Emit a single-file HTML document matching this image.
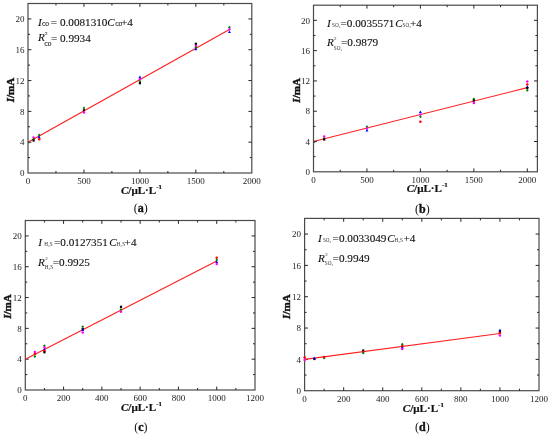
<!DOCTYPE html>
<html><head><meta charset="utf-8"><title>Calibration curves</title>
<style>
html,body{margin:0;padding:0;background:#fff;}
body{width:550px;height:436px;overflow:hidden;}
svg{display:block;}
text{font-family:'Liberation Serif', 'Times New Roman', serif;fill:#1a1a1a;}
.tl{font-size:9.0px;text-anchor:middle;fill:#222;}
.at{font-size:11.1px;font-weight:bold;fill:#111;stroke:#111;stroke-width:0.2px;}
.pl{font-size:12px;fill:#111;}
.eq{font-size:11px;fill:#111;stroke:#111;stroke-width:0.12px;}
</style></head>
<body>
<svg width="550" height="436" viewBox="0 0 550 436">
<rect width="550" height="436" fill="#fff"/>
<g>
<rect x="28.0" y="3.5" width="223.80" height="169.50" fill="none" stroke="#4a4a4a" stroke-width="1.2"/>
<text x="28.00" y="183.80" class="tl">0</text>
<text x="83.95" y="183.80" class="tl">500</text>
<text x="139.90" y="183.80" class="tl">1000</text>
<text x="195.85" y="183.80" class="tl">1500</text>
<text x="251.80" y="183.80" class="tl">2000</text>
<text x="24.40" y="176.20" class="tl" style="text-anchor:end">0</text>
<text x="24.40" y="145.38" class="tl" style="text-anchor:end">4</text>
<text x="24.40" y="114.56" class="tl" style="text-anchor:end">8</text>
<text x="24.40" y="83.75" class="tl" style="text-anchor:end">12</text>
<text x="24.40" y="52.93" class="tl" style="text-anchor:end">16</text>
<text x="24.40" y="22.11" class="tl" style="text-anchor:end">20</text>
<path d="M55.98 173.0v-2.0M55.98 3.5v2.0M83.95 173.0v-3.4M83.95 3.5v3.4M111.92 173.0v-2.0M111.92 3.5v2.0M139.90 173.0v-3.4M139.90 3.5v3.4M167.88 173.0v-2.0M167.88 3.5v2.0M195.85 173.0v-3.4M195.85 3.5v3.4M223.82 173.0v-2.0M223.82 3.5v2.0M28.0 157.59h2.0M251.8 157.59h-2.0M28.0 142.18h3.4M251.8 142.18h-3.4M28.0 126.77h2.0M251.8 126.77h-2.0M28.0 111.36h3.4M251.8 111.36h-3.4M28.0 95.95h2.0M251.8 95.95h-2.0M28.0 80.55h3.4M251.8 80.55h-3.4M28.0 65.14h2.0M251.8 65.14h-2.0M28.0 49.73h3.4M251.8 49.73h-3.4M28.0 34.32h2.0M251.8 34.32h-2.0M28.0 18.91h3.4M251.8 18.91h-3.4" stroke="#262626" stroke-width="1" fill="none"/>
<rect x="313.5" y="5.2" width="223.90" height="166.60" fill="none" stroke="#4a4a4a" stroke-width="1.2"/>
<text x="313.50" y="182.60" class="tl">0</text>
<text x="366.95" y="182.60" class="tl">500</text>
<text x="420.40" y="182.60" class="tl">1000</text>
<text x="473.85" y="182.60" class="tl">1500</text>
<text x="527.30" y="182.60" class="tl">2000</text>
<text x="309.90" y="175.00" class="tl" style="text-anchor:end">0</text>
<text x="309.90" y="144.71" class="tl" style="text-anchor:end">4</text>
<text x="309.90" y="114.42" class="tl" style="text-anchor:end">8</text>
<text x="309.90" y="84.13" class="tl" style="text-anchor:end">12</text>
<text x="309.90" y="53.84" class="tl" style="text-anchor:end">16</text>
<text x="309.90" y="23.55" class="tl" style="text-anchor:end">20</text>
<path d="M340.23 171.8v-2.0M340.23 5.2v2.0M366.95 171.8v-3.4M366.95 5.2v3.4M393.67 171.8v-2.0M393.67 5.2v2.0M420.40 171.8v-3.4M420.40 5.2v3.4M447.12 171.8v-2.0M447.12 5.2v2.0M473.85 171.8v-3.4M473.85 5.2v3.4M500.57 171.8v-2.0M500.57 5.2v2.0M527.30 171.8v-3.4M527.30 5.2v3.4M313.5 156.65h2.0M537.4 156.65h-2.0M313.5 141.51h3.4M537.4 141.51h-3.4M313.5 126.36h2.0M537.4 126.36h-2.0M313.5 111.22h3.4M537.4 111.22h-3.4M313.5 96.07h2.0M537.4 96.07h-2.0M313.5 80.93h3.4M537.4 80.93h-3.4M313.5 65.78h2.0M537.4 65.78h-2.0M313.5 50.64h3.4M537.4 50.64h-3.4M313.5 35.49h2.0M537.4 35.49h-2.0M313.5 20.35h3.4M537.4 20.35h-3.4" stroke="#262626" stroke-width="1" fill="none"/>
<rect x="25.3" y="220.5" width="229.70" height="169.50" fill="none" stroke="#4a4a4a" stroke-width="1.2"/>
<text x="25.30" y="400.80" class="tl">0</text>
<text x="63.58" y="400.80" class="tl">200</text>
<text x="101.87" y="400.80" class="tl">400</text>
<text x="140.15" y="400.80" class="tl">600</text>
<text x="178.43" y="400.80" class="tl">800</text>
<text x="216.72" y="400.80" class="tl">1000</text>
<text x="255.00" y="400.80" class="tl">1200</text>
<text x="21.70" y="393.20" class="tl" style="text-anchor:end">0</text>
<text x="21.70" y="362.38" class="tl" style="text-anchor:end">4</text>
<text x="21.70" y="331.56" class="tl" style="text-anchor:end">8</text>
<text x="21.70" y="300.75" class="tl" style="text-anchor:end">12</text>
<text x="21.70" y="269.93" class="tl" style="text-anchor:end">16</text>
<text x="21.70" y="239.11" class="tl" style="text-anchor:end">20</text>
<path d="M44.44 390.0v-2.0M44.44 220.5v2.0M63.58 390.0v-3.4M63.58 220.5v3.4M82.72 390.0v-2.0M82.72 220.5v2.0M101.87 390.0v-3.4M101.87 220.5v3.4M121.01 390.0v-2.0M121.01 220.5v2.0M140.15 390.0v-3.4M140.15 220.5v3.4M159.29 390.0v-2.0M159.29 220.5v2.0M178.43 390.0v-3.4M178.43 220.5v3.4M197.58 390.0v-2.0M197.58 220.5v2.0M216.72 390.0v-3.4M216.72 220.5v3.4M235.86 390.0v-2.0M235.86 220.5v2.0M25.3 374.59h2.0M255.0 374.59h-2.0M25.3 359.18h3.4M255.0 359.18h-3.4M25.3 343.77h2.0M255.0 343.77h-2.0M25.3 328.36h3.4M255.0 328.36h-3.4M25.3 312.95h2.0M255.0 312.95h-2.0M25.3 297.55h3.4M255.0 297.55h-3.4M25.3 282.14h2.0M255.0 282.14h-2.0M25.3 266.73h3.4M255.0 266.73h-3.4M25.3 251.32h2.0M255.0 251.32h-2.0M25.3 235.91h3.4M255.0 235.91h-3.4" stroke="#262626" stroke-width="1" fill="none"/>
<rect x="304.6" y="218.4" width="234.40" height="172.30" fill="none" stroke="#4a4a4a" stroke-width="1.2"/>
<text x="304.60" y="401.50" class="tl">0</text>
<text x="343.67" y="401.50" class="tl">200</text>
<text x="382.73" y="401.50" class="tl">400</text>
<text x="421.80" y="401.50" class="tl">600</text>
<text x="460.87" y="401.50" class="tl">800</text>
<text x="499.93" y="401.50" class="tl">1000</text>
<text x="539.00" y="401.50" class="tl">1200</text>
<text x="301.00" y="393.90" class="tl" style="text-anchor:end">0</text>
<text x="301.00" y="362.57" class="tl" style="text-anchor:end">4</text>
<text x="301.00" y="331.25" class="tl" style="text-anchor:end">8</text>
<text x="301.00" y="299.92" class="tl" style="text-anchor:end">12</text>
<text x="301.00" y="268.59" class="tl" style="text-anchor:end">16</text>
<text x="301.00" y="237.26" class="tl" style="text-anchor:end">20</text>
<path d="M324.13 390.7v-2.0M324.13 218.4v2.0M343.67 390.7v-3.4M343.67 218.4v3.4M363.20 390.7v-2.0M363.20 218.4v2.0M382.73 390.7v-3.4M382.73 218.4v3.4M402.27 390.7v-2.0M402.27 218.4v2.0M421.80 390.7v-3.4M421.80 218.4v3.4M441.33 390.7v-2.0M441.33 218.4v2.0M460.87 390.7v-3.4M460.87 218.4v3.4M480.40 390.7v-2.0M480.40 218.4v2.0M499.93 390.7v-3.4M499.93 218.4v3.4M519.47 390.7v-2.0M519.47 218.4v2.0M304.6 375.04h2.0M539.0 375.04h-2.0M304.6 359.37h3.4M539.0 359.37h-3.4M304.6 343.71h2.0M539.0 343.71h-2.0M304.6 328.05h3.4M539.0 328.05h-3.4M304.6 312.38h2.0M539.0 312.38h-2.0M304.6 296.72h3.4M539.0 296.72h-3.4M304.6 281.05h2.0M539.0 281.05h-2.0M304.6 265.39h3.4M539.0 265.39h-3.4M304.6 249.73h2.0M539.0 249.73h-2.0M304.6 234.06h3.4M539.0 234.06h-3.4" stroke="#262626" stroke-width="1" fill="none"/>
<line x1="28.00" y1="142.18" x2="229.42" y2="29.42" stroke="#ff2020" stroke-width="1.15"/>
<rect x="28.2" y="141.6" width="1.6" height="1.6" fill="#1d5a3a"/>
<circle cx="33.59" cy="137.60" r="1.25" fill="#ff00ff"/>
<path d="M33.59 137.80L34.99 139.30L33.59 140.80L32.20 139.30Z" fill="#008000"/>
<rect x="32.49" y="139.40" width="2.2" height="2.2" fill="#000000"/>
<path d="M39.19 133.40L40.59 134.90L39.19 136.40L37.79 134.90Z" fill="#008000"/>
<path d="M39.19 135.60L40.69 138.30L37.69 138.30Z" fill="#0000ff"/>
<circle cx="39.19" cy="139.20" r="1.25" fill="#ff0000"/>
<path d="M83.95 106.60L85.35 108.10L83.95 109.60L82.55 108.10Z" fill="#008000"/>
<rect x="82.85" y="109.20" width="2.2" height="2.2" fill="#000000"/>
<circle cx="83.95" cy="112.40" r="1.25" fill="#ff00ff"/>
<path d="M139.90 75.60L141.40 78.30L138.40 78.30Z" fill="#0000ff"/>
<circle cx="139.90" cy="79.00" r="1.25" fill="#ff00ff"/>
<path d="M139.90 79.80L141.30 81.30L139.90 82.80L138.50 81.30Z" fill="#008000"/>
<rect x="138.80" y="82.10" width="2.2" height="2.2" fill="#000000"/>
<rect x="194.75" y="42.70" width="2.2" height="2.2" fill="#000000"/>
<circle cx="195.85" cy="46.00" r="1.25" fill="#ff00ff"/>
<path d="M195.85 46.10L197.25 47.60L195.85 49.10L194.45 47.60Z" fill="#008000"/>
<path d="M195.85 47.60L197.35 50.30L194.35 50.30Z" fill="#0000ff"/>
<path d="M229.42 25.70L230.82 27.20L229.42 28.70L228.02 27.20Z" fill="#008000"/>
<circle cx="229.42" cy="29.30" r="1.25" fill="#ff00ff"/>
<path d="M229.42 30.40L230.92 33.10L227.92 33.10Z" fill="#0000ff"/>
<line x1="313.50" y1="141.51" x2="527.30" y2="87.64" stroke="#ff2020" stroke-width="1.15"/>
<rect x="313.7" y="140.8" width="1.8" height="1.8" fill="#2a3a2a"/>
<circle cx="324.19" cy="136.50" r="1.25" fill="#ff00ff"/>
<path d="M324.19 137.00L325.59 138.50L324.19 140.00L322.79 138.50Z" fill="#008000"/>
<rect x="323.09" y="138.40" width="2.2" height="2.2" fill="#000000"/>
<path d="M366.95 125.20L368.35 126.70L366.95 128.20L365.55 126.70Z" fill="#008000"/>
<circle cx="366.95" cy="128.50" r="1.25" fill="#ff00ff"/>
<path d="M366.95 128.90L368.45 131.60L365.45 131.60Z" fill="#0000ff"/>
<path d="M420.40 110.40L421.90 113.10L418.90 113.10Z" fill="#0000ff"/>
<circle cx="420.40" cy="114.50" r="1.25" fill="#ff00ff"/>
<path d="M420.40 115.20L421.80 116.70L420.40 118.20L419.00 116.70Z" fill="#008000"/>
<circle cx="420.40" cy="121.80" r="1.25" fill="#ff0000"/>
<path d="M473.85 97.50L475.25 99.00L473.85 100.50L472.45 99.00Z" fill="#008000"/>
<rect x="472.75" y="99.40" width="2.2" height="2.2" fill="#000000"/>
<circle cx="473.85" cy="102.90" r="1.25" fill="#ff00ff"/>
<circle cx="527.30" cy="81.50" r="1.25" fill="#ff00ff"/>
<circle cx="527.30" cy="84.50" r="1.25" fill="#ff0000"/>
<path d="M527.30 85.40L528.80 88.10L525.80 88.10Z" fill="#0000ff"/>
<rect x="526.20" y="86.90" width="2.2" height="2.2" fill="#000000"/>
<path d="M527.30 88.80L528.70 90.30L527.30 91.80L525.90 90.30Z" fill="#008000"/>
<line x1="25.30" y1="359.18" x2="216.72" y2="261.06" stroke="#ff2020" stroke-width="1.15"/>
<circle cx="34.87" cy="352.10" r="1.25" fill="#ff00ff"/>
<circle cx="34.87" cy="354.00" r="1.25" fill="#ff0000"/>
<path d="M34.87 355.00L36.27 356.50L34.87 358.00L33.47 356.50Z" fill="#008000"/>
<path d="M44.44 344.30L45.84 345.80L44.44 347.30L43.04 345.80Z" fill="#008000"/>
<circle cx="44.44" cy="347.50" r="1.25" fill="#ff00ff"/>
<path d="M44.44 347.90L45.94 350.60L42.94 350.60Z" fill="#0000ff"/>
<circle cx="44.44" cy="351.00" r="1.25" fill="#ff0000"/>
<rect x="43.34" y="351.20" width="2.2" height="2.2" fill="#000000"/>
<path d="M82.72 325.20L84.12 326.70L82.72 328.20L81.32 326.70Z" fill="#008000"/>
<rect x="81.62" y="327.90" width="2.2" height="2.2" fill="#000000"/>
<path d="M82.72 328.40L84.22 331.10L81.22 331.10Z" fill="#0000ff"/>
<circle cx="82.72" cy="332.50" r="1.25" fill="#ff00ff"/>
<rect x="119.91" y="305.70" width="2.2" height="2.2" fill="#000000"/>
<path d="M121.01 308.10L122.41 309.60L121.01 311.10L119.61 309.60Z" fill="#008000"/>
<circle cx="121.01" cy="311.80" r="1.25" fill="#ff00ff"/>
<circle cx="216.72" cy="257.70" r="1.25" fill="#ff0000"/>
<path d="M216.72 258.50L218.12 260.00L216.72 261.50L215.32 260.00Z" fill="#008000"/>
<path d="M216.72 260.40L218.22 263.10L215.22 263.10Z" fill="#0000ff"/>
<circle cx="216.72" cy="264.00" r="1.25" fill="#ff00ff"/>
<line x1="304.60" y1="359.37" x2="499.93" y2="333.49" stroke="#ff2020" stroke-width="1.15"/>
<circle cx="304.60" cy="357.50" r="1.25" fill="#ff0000"/>
<circle cx="304.60" cy="360.00" r="1.25" fill="#ff00ff"/>
<rect x="313.27" y="357.90" width="2.2" height="2.2" fill="#000000"/>
<path d="M314.37 356.60L315.87 359.30L312.87 359.30Z" fill="#0000ff"/>
<path d="M324.13 356.40L325.53 357.90L324.13 359.40L322.73 357.90Z" fill="#008000"/>
<circle cx="324.13" cy="356.90" r="1.25" fill="#ff0000"/>
<rect x="362.10" y="349.40" width="2.2" height="2.2" fill="#000000"/>
<circle cx="363.20" cy="352.00" r="1.25" fill="#ff0000"/>
<path d="M363.20 351.50L364.60 353.00L363.20 354.50L361.80 353.00Z" fill="#008000"/>
<path d="M402.27 342.70L403.67 344.20L402.27 345.70L400.87 344.20Z" fill="#008000"/>
<circle cx="402.27" cy="346.00" r="1.25" fill="#ff0000"/>
<path d="M402.27 345.90L403.77 348.60L400.77 348.60Z" fill="#0000ff"/>
<circle cx="402.27" cy="349.00" r="1.25" fill="#ff00ff"/>
<path d="M499.93 328.60L501.43 331.30L498.43 331.30Z" fill="#0000ff"/>
<rect x="498.83" y="330.90" width="2.2" height="2.2" fill="#000000"/>
<circle cx="499.93" cy="333.00" r="1.25" fill="#ff0000"/>
<circle cx="499.93" cy="335.50" r="1.25" fill="#ff00ff"/>
<text transform="translate(14.00,90.00) rotate(-90)" class="at" style="text-anchor:middle;stroke-width:0.4px"><tspan style="font-style:italic">I</tspan>/mA</text>
<text transform="translate(300.40,90.30) rotate(-90)" class="at" style="text-anchor:middle;stroke-width:0.4px"><tspan style="font-style:italic">I</tspan>/mA</text>
<text transform="translate(10.60,306.50) rotate(-90)" class="at" style="text-anchor:middle;stroke-width:0.4px"><tspan style="font-style:italic">I</tspan>/mA</text>
<text transform="translate(290.00,306.60) rotate(-90)" class="at" style="text-anchor:middle;stroke-width:0.4px"><tspan style="font-style:italic">I</tspan>/mA</text>
<text x="120.90" y="193.50" class="at"><tspan style="font-style:italic">C</tspan>/μL·L<tspan style="font-size:7px" dy="-5">-1</tspan></text>
<text x="406.70" y="192.00" class="at"><tspan style="font-style:italic">C</tspan>/μL·L<tspan style="font-size:7px" dy="-5">-1</tspan></text>
<text x="120.90" y="410.70" class="at"><tspan style="font-style:italic">C</tspan>/μL·L<tspan style="font-size:7px" dy="-5">-1</tspan></text>
<text x="402.80" y="411.80" class="at"><tspan style="font-style:italic">C</tspan>/μL·L<tspan style="font-size:7px" dy="-5">-1</tspan></text>
<text x="140.80" y="211.90" class="pl" style="text-anchor:middle">(<tspan style="font-weight:bold;stroke:#111;stroke-width:0.35px">a</tspan>)</text>
<text x="422.40" y="212.80" class="pl" style="text-anchor:middle">(<tspan style="font-weight:bold;stroke:#111;stroke-width:0.35px">b</tspan>)</text>
<text x="140.90" y="431.00" class="pl" style="text-anchor:middle">(<tspan style="font-weight:bold;stroke:#111;stroke-width:0.35px">c</tspan>)</text>
<text x="422.40" y="430.80" class="pl" style="text-anchor:middle">(<tspan style="font-weight:bold;stroke:#111;stroke-width:0.35px">d</tspan>)</text>
<text x="38" y="25.9" class="eq" style="font-size:11.2px;font-style:italic">I</text>
<text x="42.0" y="25.9" class="eq" style="font-size:7.6px;stroke-width:0.1px">co</text>
<text x="50.8" y="25.799999999999997" class="eq" style="font-size:11.2px">= 0.0081310</text>
<text x="107.3" y="25.9" class="eq" style="font-size:11.2px;font-style:italic">C</text>
<text x="115.2" y="25.9" class="eq" style="font-size:7.6px;stroke-width:0.1px">co</text>
<text x="121.0" y="25.799999999999997" class="eq" style="font-size:11.2px">+4</text>
<text x="38" y="41.2" class="eq" style="font-size:11.2px;font-style:italic">R</text>
<text x="45.1" y="35.4" class="eq" style="font-size:5.0px;stroke-width:0.1px">2</text>
<text x="44.3" y="45.6" class="eq" style="font-size:7.6px;stroke-width:0.1px">co</text>
<text x="50.9" y="41.900000000000006" class="eq" style="font-size:11.2px">= 0.9934</text>
<text x="327" y="26.7" class="eq" style="font-size:11.2px;font-style:italic">I</text>
<text x="332" y="26.7" class="eq" style="font-size:5.2px;stroke-width:0;fill:#333">SO₂</text>
<text x="340.5" y="26.7" class="eq" style="font-size:11.2px">=0.0035571</text>
<text x="395.3" y="26.7" class="eq" style="font-size:11.2px;font-style:italic">C</text>
<text x="402.6" y="26.7" class="eq" style="font-size:5.2px;stroke-width:0;fill:#333">SO₂</text>
<text x="409.9" y="26.7" class="eq" style="font-size:11.2px">+4</text>
<text x="327" y="45.7" class="eq" style="font-size:11.2px;font-style:italic">R</text>
<text x="334.0" y="40.4" class="eq" style="font-size:5.0px;stroke-width:0;fill:#333">2</text>
<text x="333.8" y="49.6" class="eq" style="font-size:5.2px;stroke-width:0;fill:#333">SO₂</text>
<text x="341.0" y="45.7" class="eq" style="font-size:11.2px">=0.9879</text>
<text x="38.2" y="245.8" class="eq" style="font-size:11.2px;font-style:italic">I</text>
<text x="44.2" y="245.8" class="eq" style="font-size:5.2px;stroke-width:0;fill:#333">H₂S</text>
<text x="54.0" y="245.8" class="eq" style="font-size:11.2px">=0.0127351</text>
<text x="109.2" y="245.8" class="eq" style="font-size:11.2px;font-style:italic">C</text>
<text x="116.6" y="245.8" class="eq" style="font-size:5.2px;stroke-width:0;fill:#333">H₂S</text>
<text x="124.6" y="245.8" class="eq" style="font-size:11.2px">+4</text>
<text x="38" y="265.6" class="eq" style="font-size:11.2px;font-style:italic">R</text>
<text x="45.3" y="260.0" class="eq" style="font-size:5.0px;stroke-width:0;fill:#333">2</text>
<text x="44.8" y="269.3" class="eq" style="font-size:5.2px;stroke-width:0;fill:#333">H₂S</text>
<text x="52.8" y="265.6" class="eq" style="font-size:11.2px">=0.9925</text>
<text x="318" y="242.2" class="eq" style="font-size:11.2px;font-style:italic">I</text>
<text x="322.9" y="242.2" class="eq" style="font-size:5.2px;stroke-width:0;fill:#333">SO₂</text>
<text x="332.6" y="242.2" class="eq" style="font-size:11.2px">=0.0033049</text>
<text x="387.2" y="242.2" class="eq" style="font-size:11.2px;font-style:italic">C</text>
<text x="394.4" y="242.2" class="eq" style="font-size:5.2px;stroke-width:0;fill:#333">H₂S</text>
<text x="403.5" y="242.2" class="eq" style="font-size:11.2px">+4</text>
<text x="318" y="261.6" class="eq" style="font-size:11.2px;font-style:italic">R</text>
<text x="325.2" y="256.2" class="eq" style="font-size:5.0px;stroke-width:0;fill:#333">2</text>
<text x="324.8" y="265.3" class="eq" style="font-size:5.2px;stroke-width:0;fill:#333">SO₂</text>
<text x="332.6" y="261.6" class="eq" style="font-size:11.2px">=0.9949</text>
</g>
</svg>
</body></html>
